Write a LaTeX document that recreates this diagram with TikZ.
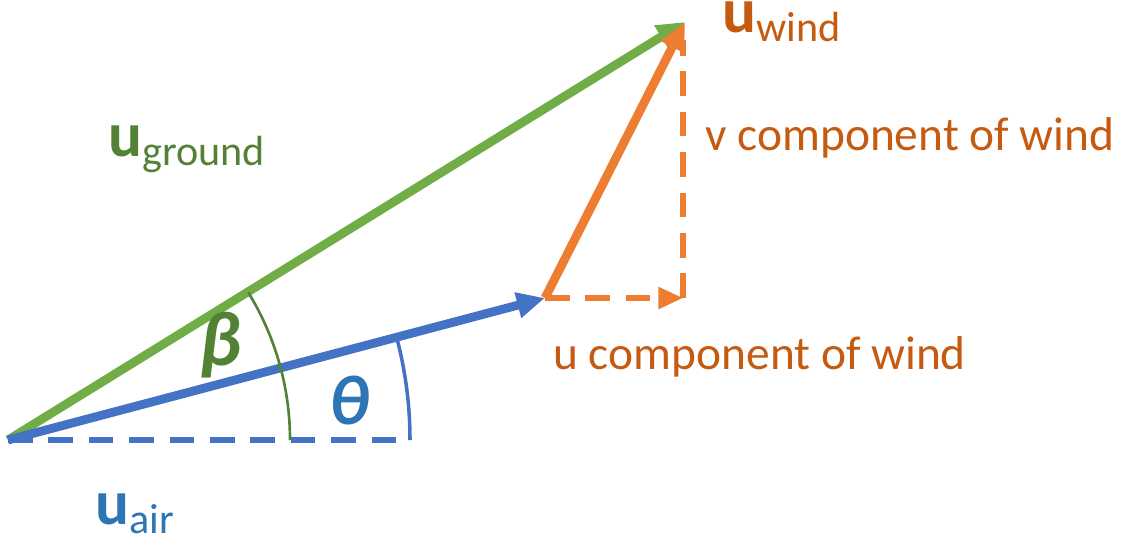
\documentclass[tikz,border=0pt]{standalone}
\usepackage{fontspec}
\setmainfont{Carlito}
\usetikzlibrary{arrows.meta}
\definecolor{cg}{HTML}{70AD47}\definecolor{cb}{HTML}{4472C4}\definecolor{co}{HTML}{ED7D31}
\definecolor{tg}{HTML}{538135}\definecolor{tb}{HTML}{2E75B6}\definecolor{to}{HTML}{C55A11}
\newcommand{\vlab}[1]{{\fontsize{36}{36}\selectfont\bfseries u}\raisebox{-5pt}{\fontsize{24}{28}\selectfont #1}}
\begin{document}
\begin{tikzpicture}[x=0.02cm,y=-0.02cm,
 vec/.style={line width=5pt,-{Triangle[length=16pt,width=14pt]}},
 dsh/.style={line width=3pt,dash pattern=on 14pt off 9pt},
 lbl/.style={anchor=west,inner sep=0}]
\useasboundingbox (0,0) rectangle (1125,541);
\coordinate (O) at (8,440);
\coordinate (A) at (545,298);
\coordinate (W) at (685,22);
\coordinate (C) at (683,298);
\coordinate (H) at (410,440);
\draw[dsh,cb] (O) -- (H);
\draw[dsh,co,-{Triangle[length=14pt,width=12pt]}] (A) -- (C);
\draw[dsh,co] (C) -- (683,40);
\draw[vec,cg] (O) -- (W);
\draw[vec,co] (A) -- (W);
\draw[vec,cb] (O) -- (A);
\draw[tg,line width=1.5pt] (290,440) arc[start angle=0,end angle=-31.6,radius=282];
\draw[cb,line width=2pt] (410,440) arc[start angle=0,end angle=-14.8,radius=402];
\node[lbl,text=tg] (g) at (108,149) {\vlab{ground}};
\node[lbl,text=tb] (a) at (95,514) {\vlab{air}};
\node[lbl,text=to] (w) at (722,22) {\vlab{wind}};
\node[lbl,text=to,font=\fontsize{27}{32}\selectfont] (v) at (705,138) {v component of wind};
\node[lbl,text=to,font=\fontsize{27}{32}\selectfont] (u) at (553,357) {u component of wind};
\node[text=tg,font=\fontsize{44}{44}\selectfont\bfseries\itshape] (b) at (220,345) {β};
\node[text=tb,font=\fontsize{40}{40}\selectfont\bfseries\itshape] (t) at (350,400) {θ};
\end{tikzpicture}
\end{document}
